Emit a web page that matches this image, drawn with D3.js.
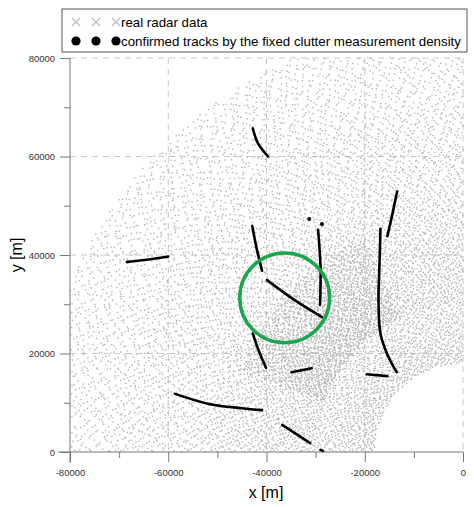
<!DOCTYPE html>
<html>
<head>
<meta charset="utf-8">
<script src="https://cdn.jsdelivr.net/npm/d3@7"></script>
<style>
  body { margin: 0; background: #fff; }
  text { font-family: "Liberation Sans", Arial, sans-serif; }
</style>
</head>
<body>
<svg id="chart" width="474" height="507"></svg>
<script>
// clutter bands: [rMin, rMax, angleFrom, angleTo, count]  (metres, degrees)
var clutterBands = [
    [18000, 30000, 90, 180, 1300],
    [30000, 52000, 90, 180, 3400],
    [30000, 48000, 115, 160, 1400],
    [52000, 70000, 90, 180, 2400],
    [70000, 87000, 90, 180, 2000]
];

// confirmed tracks [x, y] in metres
var tracks = [
    [[-42800, 65700], [-41700, 62600], [-39700, 60000]],
    [[-68400, 38600], [-64000, 39100], [-60000, 39700]],
    [[-42900, 45900], [-42000, 41300], [-40900, 36800]],
    [[-29500, 45100], [-29000, 37500], [-29100, 29900]],
    [[-39900, 34900], [-34500, 31000], [-28700, 27400]],
    [[-13400, 52900], [-14400, 48200], [-15400, 43800]],
    [[-16800, 45300], [-17000, 38000], [-17200, 30800], [-16800, 24000], [-15400, 19800], [-13500, 16200]],
    [[-42800, 24100], [-41600, 20600], [-40100, 17100]],
    [[-34900, 16200], [-30800, 17000]],
    [[-19600, 15800], [-15400, 15400]],
    [[-58600, 11800], [-51500, 9700], [-45000, 8900], [-40900, 8500]],
    [[-36800, 5500], [-31100, 1800]],
    [[-29000, 400], [-28500, 200]]
];
var trackDots = [[-31300, 47300], [-28700, 46300]];

var circleCenter = [-36300, 31300];
var circleRadius = 9150;

var xTicks = [-80000, -60000, -40000, -20000, 0];
var yTicks = [0, 20000, 40000, 60000, 80000];
var legendLabels = ["real radar data", "confirmed tracks by the fixed clutter measurement density"];

var svg = d3.select("#chart");
var x = d3.scaleLinear().domain([-80000, 0]).range([70, 463]);
var y = d3.scaleLinear().domain([0, 80000]).range([452, 58]);

// grid
svg.append("g").selectAll("line").data(xTicks.slice(1)).join("line")
    .attr("x1", d => x(d)).attr("x2", d => x(d)).attr("y1", y(80000)).attr("y2", y(0))
    .attr("stroke", "#c8c8c8").attr("stroke-dasharray", "6,5");
svg.append("g").selectAll("line").data(yTicks.slice(1)).join("line")
    .attr("y1", d => y(d)).attr("y2", d => y(d)).attr("x1", x(-80000)).attr("x2", x(0))
    .attr("stroke", "#c8c8c8").attr("stroke-dasharray", "6,5");

// clutter points, spread over range/azimuth cells with a Halton sequence
function halton(i, base) {
    var f = 1, r = 0;
    while (i > 0) { f /= base; r += f * (i % base); i = Math.floor(i / base); }
    return r;
}
var pts = [];
var offset = 1;
clutterBands.forEach(function(b) {
    for (var i = 0; i < b[4]; i++) {
        var k = offset + i;
        var r = b[0] + (b[1] - b[0]) * halton(k, 2);
        var a = (b[2] + (b[3] - b[2]) * halton(k, 3)) * Math.PI / 180;
        var px = r * Math.cos(a), py = r * Math.sin(a);
        if (px >= -80000 && px <= 0 && py >= 0 && py <= 80000) pts.push([px, py]);
    }
    offset += b[4];
});
svg.append("g").selectAll("rect").data(pts).join("rect")
    .attr("x", d => x(d[0]) - 0.7).attr("y", d => y(d[1]) - 0.7)
    .attr("width", 1.4).attr("height", 1.4).attr("fill", "#b4b4b4");

// tracks
var line = d3.line().x(d => x(d[0])).y(d => y(d[1])).curve(d3.curveCatmullRom);
svg.append("g").selectAll("path").data(tracks).join("path")
    .attr("d", line).attr("fill", "none").attr("stroke", "#000")
    .attr("stroke-width", 2.6).attr("stroke-linecap", "round");
svg.append("g").selectAll("circle").data(trackDots).join("circle")
    .attr("cx", d => x(d[0])).attr("cy", d => y(d[1])).attr("r", 2).attr("fill", "#000");

// green circle
svg.append("circle")
    .attr("cx", x(circleCenter[0])).attr("cy", y(circleCenter[1]))
    .attr("r", x(circleCenter[0] + circleRadius) - x(circleCenter[0]))
    .attr("fill", "none").attr("stroke", "#1aa64a").attr("stroke-width", 3.5);

// axes
var xAxis = d3.axisBottom(x).tickValues(d3.range(-80000, 1, 10000))
    .tickFormat(d => d % 20000 === 0 ? d : "").tickSize(10).tickSizeOuter(0);
var gx = svg.append("g").attr("transform", "translate(0," + y(0) + ")").call(xAxis);
gx.selectAll(".tick line").attr("y2", d => d % 20000 === 0 ? 10 : 6);
gx.select(".domain").attr("d", "M58,0H463");
var yAxis = d3.axisLeft(y).tickValues(d3.range(0, 80001, 10000))
    .tickFormat(d => d % 20000 === 0 ? d : "").tickSize(10).tickSizeOuter(0);
var gy = svg.append("g").attr("transform", "translate(" + x(-80000) + ",0)").call(yAxis);
gy.selectAll(".tick line").attr("x2", d => d % 20000 === 0 ? -10 : -6);
gy.select(".domain").attr("d", "M0,58V463");
[gx, gy].forEach(function(g) {
    g.selectAll("line, .domain").attr("stroke", "#777");
    g.selectAll("text").attr("fill", "#333").attr("font-size", 9.5);
});
gx.selectAll("text").attr("dy", "1.2em");
gy.selectAll("text").attr("dx", "-0.2em");

svg.append("text").attr("x", 266).attr("y", 498).attr("text-anchor", "middle")
    .attr("font-size", 16).text("x [m]");
svg.append("text").attr("transform", "translate(22,255) rotate(-90)").attr("text-anchor", "middle")
    .attr("font-size", 16).text("y [m]");

// legend
svg.append("rect").attr("x", 62).attr("y", 9).attr("width", 405).attr("height", 43)
    .attr("fill", "#fff").attr("stroke", "#555");
var lg = svg.append("g");
[76, 96, 116].forEach(function(cx) {
    lg.append("path").attr("d", "M" + (cx - 4) + ",18l8,8M" + (cx + 4) + ",18l-8,8")
        .attr("stroke", "#bbb").attr("stroke-width", 1.1);
    lg.append("circle").attr("cx", cx).attr("cy", 41).attr("r", 4.6).attr("fill", "#000");
});
lg.selectAll("text").data(legendLabels).join("text")
    .attr("x", 121).attr("y", (d, i) => 27 + i * 19).attr("font-size", 13.3).text(d => d);
</script>
</body>
</html>
